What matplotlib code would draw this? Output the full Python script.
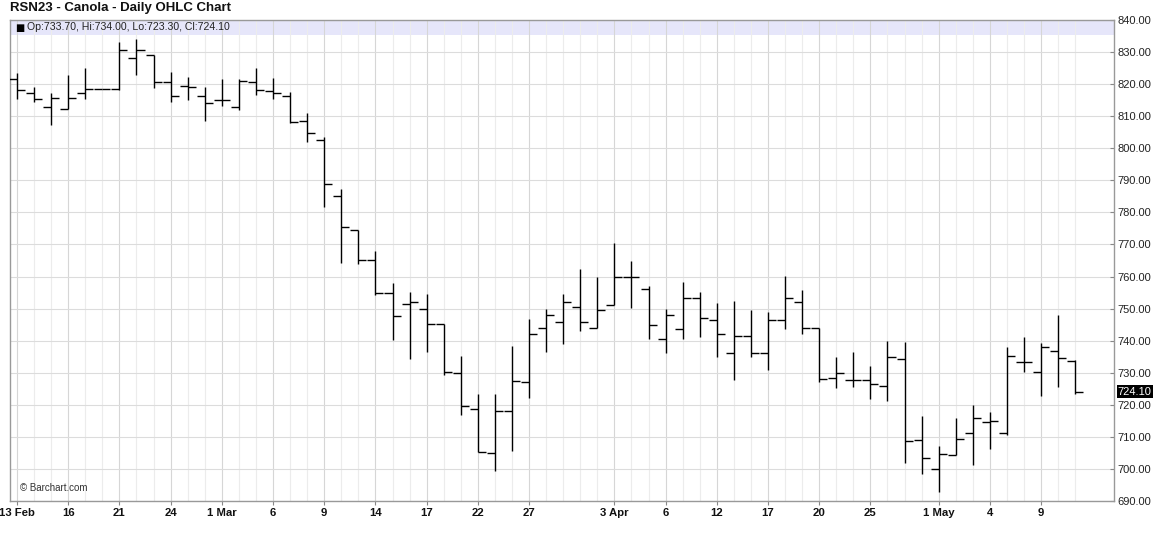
import matplotlib.pyplot as plt
import numpy as np
from matplotlib.patches import Rectangle

# daily OHLC, RSN23 canola, 13 Feb - 11 May 2023
dates = ["13 Feb", "14 Feb", "15 Feb", "16 Feb", "17 Feb", "20 Feb", "21 Feb", "22 Feb",
         "23 Feb", "24 Feb", "27 Feb", "28 Feb", "1 Mar", "2 Mar", "3 Mar", "6 Mar",
         "7 Mar", "8 Mar", "9 Mar", "10 Mar", "13 Mar", "14 Mar", "15 Mar", "16 Mar",
         "17 Mar", "20 Mar", "21 Mar", "22 Mar", "23 Mar", "24 Mar", "27 Mar", "28 Mar",
         "29 Mar", "30 Mar", "31 Mar", "3 Apr", "4 Apr", "5 Apr", "6 Apr", "10 Apr",
         "11 Apr", "12 Apr", "13 Apr", "14 Apr", "17 Apr", "18 Apr", "19 Apr", "20 Apr",
         "21 Apr", "24 Apr", "25 Apr", "26 Apr", "27 Apr", "28 Apr", "1 May", "2 May",
         "3 May", "4 May", "5 May", "8 May", "9 May", "10 May", "11 May"]

opens = [821.6, 817.1, 813.0, 812.4, 817.1, 818.4, 818.4, 828.1, 829.1, 820.7,
         819.5, 816.4, 815.0, 813.0, 820.7, 817.9, 816.4, 808.5, 802.5, 785.2,
         774.4, 765.2, 754.9, 751.5, 749.9, 745.3, 730.0, 718.8, 704.9, 718.1,
         727.1, 744.0, 745.8, 750.5, 743.8, 751.2, 759.9, 756.2, 740.6, 743.7,
         753.3, 746.6, 736.2, 741.5, 736.2, 746.6, 752.2, 744.0, 728.3, 727.7,
         727.7, 725.9, 734.3, 709.0, 699.9, 704.3, 711.2, 714.6, 711.3, 733.3,
         730.2, 736.8, 733.7]
highs = [823.4, 819.0, 817.2, 822.8, 825.0, 818.4, 833.0, 834.1, 829.1, 823.8,
         822.1, 819.0, 821.6, 821.6, 825.0, 821.9, 817.4, 810.9, 803.5, 787.4,
         774.4, 768.1, 758.0, 755.2, 754.6, 745.3, 735.2, 723.3, 723.3, 738.3,
         746.9, 749.9, 754.7, 762.2, 759.9, 770.5, 765.0, 757.2, 750.0, 758.4,
         755.3, 751.8, 752.5, 749.6, 748.8, 760.2, 755.9, 744.0, 734.9, 736.5,
         732.1, 739.9, 739.6, 716.6, 707.2, 715.9, 720.0, 717.7, 738.0, 741.2,
         739.3, 748.0, 734.0]
lows = [815.3, 814.3, 807.2, 812.4, 815.3, 818.4, 818.2, 822.8, 818.7, 814.5,
        815.1, 808.5, 813.2, 812.0, 816.6, 815.3, 808.0, 802.0, 781.8, 764.2,
        763.8, 754.2, 740.1, 734.3, 736.5, 729.3, 716.7, 705.2, 699.2, 705.7,
        722.0, 736.5, 739.0, 742.9, 743.8, 751.2, 750.1, 740.5, 736.0, 740.5,
        741.0, 734.8, 727.8, 734.8, 730.7, 743.7, 742.0, 727.0, 725.1, 725.7,
        721.8, 721.2, 701.8, 698.3, 692.9, 704.3, 701.2, 706.3, 710.7, 730.1,
        722.9, 725.7, 723.3]
closes = [818.2, 815.3, 815.6, 815.7, 818.4, 818.4, 830.6, 830.6, 820.7, 816.4,
          819.0, 814.0, 815.0, 821.0, 818.1, 817.1, 808.3, 804.7, 788.8, 775.5,
          765.2, 754.9, 747.8, 752.1, 745.3, 730.3, 719.7, 705.4, 718.1, 727.5,
          742.2, 748.1, 752.1, 745.8, 749.6, 759.9, 759.9, 744.9, 748.0, 753.3,
          747.1, 742.1, 741.5, 736.2, 746.6, 753.3, 744.0, 728.0, 730.0, 727.7,
          726.5, 734.9, 708.7, 703.3, 704.6, 709.3, 715.8, 714.8, 735.2, 733.3,
          737.9, 734.5, 724.1]

tick_pos = [0, 3, 6, 9, 12, 15, 18, 21, 24, 27, 30, 35, 38, 41, 44, 47, 50, 54, 57, 60]
tick_labels = ["13 Feb", "16", "21", "24", "1 Mar", "6", "9", "14", "17", "22", "27",
               "3 Apr", "6", "12", "17", "20", "25", "1 May", "4", "9"]
y_ticks = np.arange(690, 841, 10)

plt.rcParams['font.family'] = ['Liberation Sans', 'DejaVu Sans']

x = np.arange(len(dates))
w = 0.47

fig = plt.figure(figsize=(11.56, 5.42), dpi=100)
ax = fig.add_axes([10 / 1156, 41 / 542, 1104 / 1156, 481 / 542])
ax.set_axisbelow(True)

# header band sits under the grid, so the lines show through it
ax.add_patch(Rectangle((0, 1 - 14.5 / 481), 1, 14.5 / 481, transform=ax.transAxes,
                       facecolor='#e6e6fa', edgecolor='none', zorder=0.2))

# grid: one light line per session, darker ones at labelled dates
ax.set_xticks(x, minor=True)
ax.grid(True, which='minor', axis='x', color='#ececec', lw=0.8)
ax.grid(True, which='major', axis='x', color='#d6d6d6', lw=0.8)
ax.grid(True, which='major', axis='y', color='#dcdcdc', lw=0.8)

# OHLC bars
ax.vlines(x, lows, highs, color='black', lw=1.0, zorder=3)
ax.hlines(opens, x - w, x, color='black', lw=1.0, zorder=3)
ax.hlines(closes, x, x + w, color='black', lw=1.0, zorder=3)

ax.set_xlim(-0.41, 64.27)
ax.set_ylim(690, 840)

ax.set_xticks(tick_pos)
ax.set_xticklabels(tick_labels, fontweight='bold', fontsize=8.2,
                   family=['Liberation Sans Narrow', 'Liberation Sans'])
ax.tick_params(axis='x', which='major', length=3, color='#888888', pad=2, labelcolor='#111111')
ax.tick_params(axis='x', which='minor', length=0)

ax.yaxis.tick_right()
ax.set_yticks(y_ticks)
ax.set_yticklabels([f"{v:.2f}" for v in y_ticks])
ax.tick_params(axis='y', direction='in', length=3, color='#888888', pad=2.2,
               labelsize=8, labelcolor='#222222')

for s in ax.spines.values():
    s.set_color('#999999')
    s.set_linewidth(1.0)

ax.text(0.005, 1 - 7.5 / 481, "\u25a0", transform=ax.transAxes, fontsize=7,
        va='center', ha='left', zorder=5, family=['DejaVu Sans'])
ax.text(0.0155, 1 - 7.5 / 481,
        f"Op:{opens[-1]:.2f}, Hi:{highs[-1]:.2f}, Lo:{lows[-1]:.2f}, Cl:{closes[-1]:.2f}",
        transform=ax.transAxes, fontsize=7.6, va='center', ha='left', color='#222222', zorder=5)

# last price marker on the price axis
ax.text(1.0035, closes[-1], f"{closes[-1]:.2f}", transform=ax.get_yaxis_transform(),
        fontsize=8, color='white', va='center', ha='left', zorder=6, clip_on=False,
        bbox=dict(boxstyle='square,pad=0.12', facecolor='black', edgecolor='none'))

ax.text(0.009, 0.028, "\u00a9 Barchart.com", transform=ax.transAxes, fontsize=7,
        color='#333333', va='center', ha='left')

fig.text(10 / 1156, 1 - 8 / 542, "RSN23 - Canola - Daily OHLC Chart", fontsize=9.5,
         fontweight='bold', va='center', ha='left', color='#111111')

fig.savefig("out.png", dpi=100)
